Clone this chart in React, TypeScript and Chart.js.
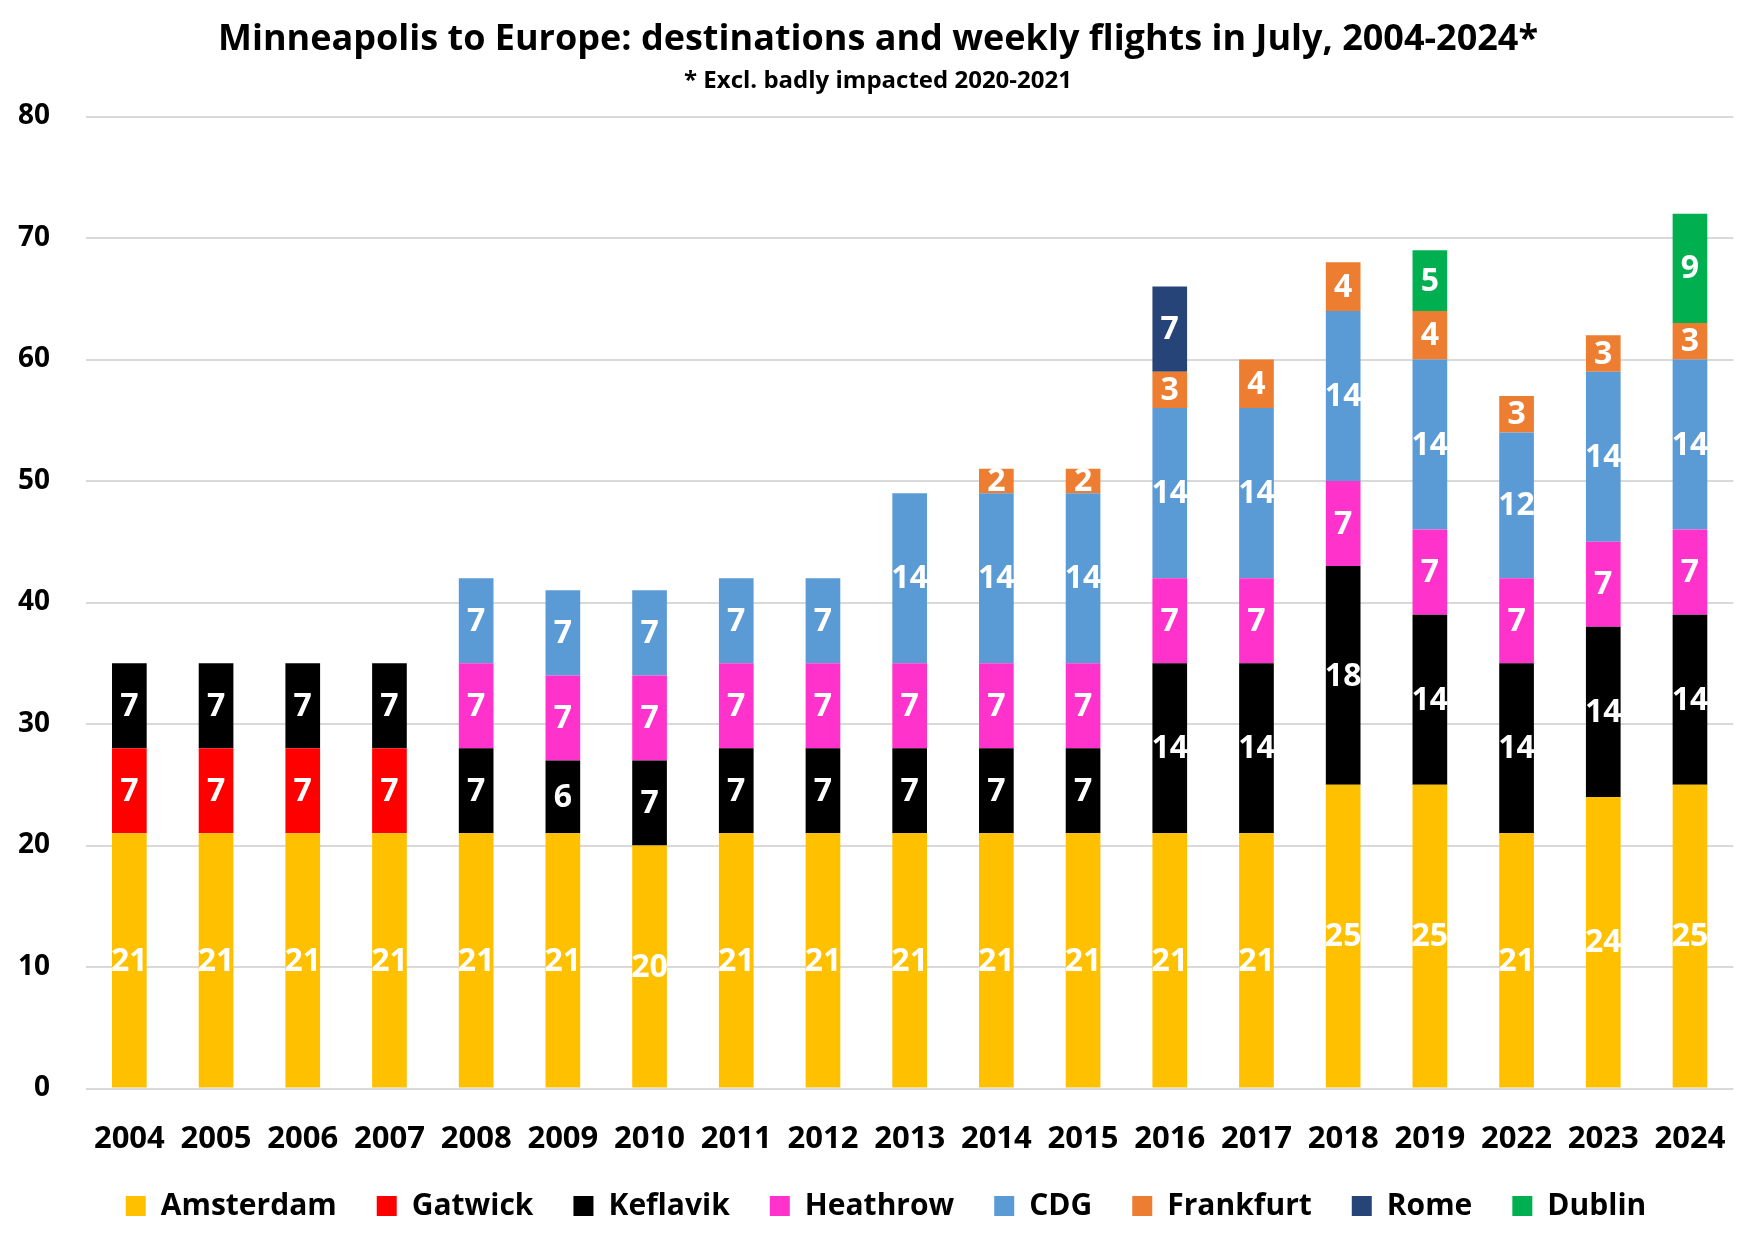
import React, { useEffect, useRef } from "react";
import { Chart, registerables } from "chart.js";

Chart.register(...registerables);

const years = ["2004", "2005", "2006", "2007", "2008", "2009", "2010", "2011", "2012", "2013", "2014", "2015", "2016", "2017", "2018", "2019", "2022", "2023", "2024"];
const amsterdam = [21, 21, 21, 21, 21, 21, 20, 21, 21, 21, 21, 21, 21, 21, 25, 25, 21, 24, 25];
const gatwick = [7, 7, 7, 7, 0, 0, 0, 0, 0, 0, 0, 0, 0, 0, 0, 0, 0, 0, 0];
const keflavik = [7, 7, 7, 7, 7, 6, 7, 7, 7, 7, 7, 7, 14, 14, 18, 14, 14, 14, 14];
const heathrow = [0, 0, 0, 0, 7, 7, 7, 7, 7, 7, 7, 7, 7, 7, 7, 7, 7, 7, 7];
const cdg = [0, 0, 0, 0, 7, 7, 7, 7, 7, 14, 14, 14, 14, 14, 14, 14, 12, 14, 14];
const frankfurt = [0, 0, 0, 0, 0, 0, 0, 0, 0, 0, 2, 2, 3, 4, 4, 4, 3, 3, 3];
const rome = [0, 0, 0, 0, 0, 0, 0, 0, 0, 0, 0, 0, 7, 0, 0, 0, 0, 0, 0];
const dublin = [0, 0, 0, 0, 0, 0, 0, 0, 0, 0, 0, 0, 0, 0, 0, 5, 0, 0, 9];

const seriesNames = ["Amsterdam", "Gatwick", "Keflavik", "Heathrow", "CDG", "Frankfurt", "Rome", "Dublin"];
const seriesColors = ["#FFC000", "#FF0000", "#000000", "#FF33CC", "#5B9BD5", "#ED7D31", "#264478", "#00B050"];
const seriesValues = [amsterdam, gatwick, keflavik, heathrow, cdg, frankfurt, rome, dublin];

const titleText = "Minneapolis to Europe: destinations and weekly flights in July, 2004-2024*";
const subtitleText = "* Excl. badly impacted 2020-2021";

const FONT = "'Open Sans', 'DejaVu Sans', sans-serif";

export default function App() {
  const ref = useRef<HTMLCanvasElement | null>(null);

  useEffect(() => {
    if (!ref.current) return;
    const segLabels = {
      id: "segLabels",
      afterDatasetsDraw(chart: any) {
        const ctx = chart.ctx;
        ctx.save();
        ctx.font = `bold 32px ${FONT}`;
        ctx.fillStyle = "#FFFFFF";
        ctx.textAlign = "center";
        ctx.textBaseline = "middle";
        chart.data.datasets.forEach((ds: any, i: number) => {
          const meta = chart.getDatasetMeta(i);
          meta.data.forEach((el: any, j: number) => {
            const v = ds.data[j];
            if (!v) return;
            const p = el.getProps(["x", "y", "base"], true);
            ctx.fillText(String(v), p.x, (p.y + p.base) / 2 + 1);
          });
        });
        ctx.restore();
      },
    };
    // nudge the title, subtitle and legend boxes so they centre on the page like the original
    const boxShift = {
      id: "boxShift",
      afterLayout(chart: any) {
        chart.boxes.forEach((b: any) => {
          if (b === chart.legend) {
            b.left += 19;
            b.right += 19;
            b.top -= 4.5;
            b.bottom -= 4.5;
          } else if (b.options && (b.options.text === titleText || b.options.text === subtitleText)) {
            b.left += 11;
            b.right += 11;
          }
        });
      },
    };

    const chart = new Chart(ref.current, {
      type: "bar",
      data: {
        labels: years,
        datasets: seriesNames.map((name, i) => ({
          label: name,
          data: seriesValues[i],
          backgroundColor: seriesColors[i],
          borderWidth: 0,
          categoryPercentage: 1,
          barPercentage: 0.4,
        })),
      },
      options: {
        animation: false,
        responsive: true,
        maintainAspectRatio: false,
        devicePixelRatio: 1,
        layout: { padding: { left: 0, right: 22, top: 0, bottom: 2.5 } },
        plugins: {
          title: {
            display: true,
            text: titleText,
            color: "#000000",
            font: { family: FONT, size: 36, weight: "bold", lineHeight: 1.2 },
            padding: { top: 18, bottom: 0 },
          },
          subtitle: {
            display: true,
            text: subtitleText,
            color: "#000000",
            font: { family: FONT, size: 24, weight: "bold", lineHeight: 1.2 },
            padding: { top: 5.5, bottom: 21 },
          },
          legend: {
            position: "bottom",
            labels: {
              boxWidth: 20,
              boxHeight: 20,
              padding: 40,
              color: "#000000",
              font: { family: FONT, size: 30, weight: "bold" },
            },
          },
          tooltip: { enabled: false },
        },
        scales: {
          x: {
            stacked: true,
            grid: { display: false, drawTicks: false },
            border: { display: false },
            ticks: {
              color: "#000000",
              padding: 30,
              font: { family: FONT, size: 31, weight: "bold", lineHeight: 1.32 },
              maxRotation: 0,
              autoSkip: false,
            },
            afterFit: (scale: any) => {
              scale.height = 67;
            },
          },
          y: {
            stacked: true,
            min: 0,
            max: 80,
            border: { display: false },
            grid: { color: "#D9D9D9", lineWidth: 2, drawTicks: false },
            ticks: {
              stepSize: 10,
              color: "#000000",
              padding: 36,
              font: { family: FONT, size: 28, weight: "bold" },
            },
            afterFit: (scale: any) => {
              scale.width = 86;
            },
          },
        },
      },
      plugins: [segLabels, boxShift],
    });
    return () => chart.destroy();
  }, []);

  return (
    <div style={{ position: "fixed", left: 0, top: 0, width: 1756, height: 1238, background: "#FFFFFF" }}>
      <canvas ref={ref} />
    </div>
  );
}
